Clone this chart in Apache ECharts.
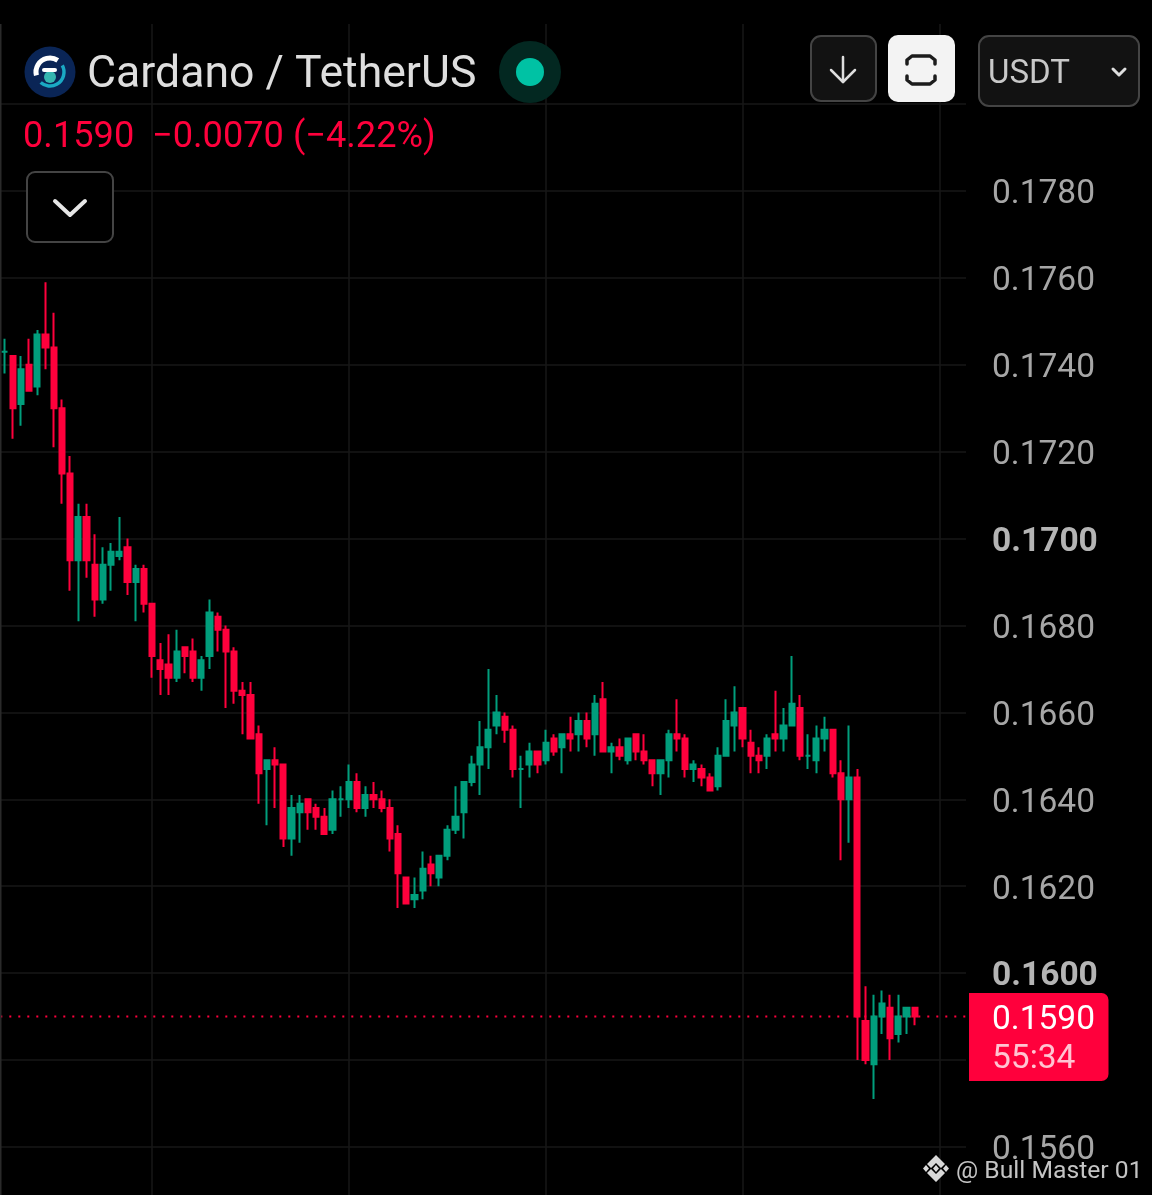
<!DOCTYPE html>
<html><head><meta charset="utf-8">
<style>html,body{margin:0;padding:0;background:#000}#c{width:1152px;height:1195px}</style>
<script src="https://cdn.jsdelivr.net/npm/echarts@6/dist/echarts.min.js"></script>
</head><body><div id="c"></div>
<script>
const opens=[.1743,.1742,.1731,.1740,.1735,.1747,.1744,.1730,.1715,.1695,.1705,.1694,.1686,.1694,.1696,.1698,.1690,.1693,.1685,.1672,.1671,.1668,.1675,.1674,.1668,.1673,.1682,.1679,.1674,.1665,.1664,.1655,.1647,.1649,.1648,.1631,.1637,.1640,.1638,.1636,.1633,.1640,.1640,.1644,.1638,.1641,.1640,.1638,.1632,.1622,.1617,.1619,.1625,.1622,.1627,.1633,.1637,.1644,.1648,.1652,.1657,.1659,.1656,.1647,.1648,.1651,.1649,.1654,.1652,.1655,.1655,.1658,.1655,.1663,.1651,.1652,.1649,.1655,.1651,.1649,.1646,.1649,.1655,.1654,.1647,.1647,.1645,.1643,.1650,.1657,.1661,.1653,.1650,.1650,.1655,.1654,.1657,.1661,.1650,.1649,.1654,.1656,.1646,.1640,.1645,.1589,.1579,.1590,.1592,.1586,.1590,.1592];
const closes=[.1743,.1730,.1739,.1734,.1747,.1744,.1730,.1715,.1695,.1705,.1695,.1686,.1694,.1697,.1697,.1690,.1693,.1685,.1673,.1670,.1668,.1674,.1673,.1668,.1672,.1683,.1679,.1674,.1665,.1664,.1654,.1646,.1649,.1648,.1631,.1638,.1639,.1637,.1636,.1632,.1640,.1640,.1644,.1638,.1641,.1640,.1638,.1631,.1623,.1616,.1618,.1624,.1623,.1627,.1633,.1636,.1644,.1648,.1652,.1656,.1660,.1656,.1647,.1647,.1651,.1648,.1653,.1651,.1655,.1654,.1658,.1654,.1662,.1651,.1652,.1650,.1654,.1651,.1649,.1646,.1649,.1655,.1654,.1647,.1648,.1645,.1642,.1650,.1658,.1660,.1654,.1650,.1649,.1654,.1654,.1657,.1662,.1650,.1650,.1654,.1656,.1646,.1640,.1645,.1590,.1580,.1590,.1593,.1585,.1590,.1592,.1590];
const lows=[.1738,.1723,.1726,.1734,.1733,.1739,.1721,.1708,.1688,.1681,.1691,.1682,.1685,.1688,.1695,.1687,.1681,.1683,.1668,.1664,.1664,.1667,.1669,.1667,.1665,.1670,.1674,.1661,.1662,.1655,.1654,.1639,.1634,.1638,.1629,.1627,.1630,.1633,.1633,.1632,.1632,.1636,.1638,.1637,.1636,.1638,.1637,.1628,.1615,.1616,.1615,.1617,.1620,.1620,.1626,.1632,.1631,.1643,.1641,.1647,.1655,.1653,.1645,.1638,.1645,.1646,.1648,.1650,.1646,.1651,.1651,.1652,.1650,.1651,.1646,.1649,.1648,.1649,.1648,.1643,.1641,.1645,.1651,.1645,.1644,.1643,.1642,.1642,.1650,.1651,.1652,.1646,.1646,.1647,.1651,.1651,.1657,.1649,.1647,.1646,.1651,.1645,.1626,.1630,.1580,.1579,.1571,.1586,.1580,.1584,.1586,.1588];
const highs=[.1746,.1742,.1742,.1746,.1748,.1759,.1752,.1732,.1719,.1708,.1708,.1701,.1698,.1699,.1705,.1700,.1694,.1694,.1685,.1676,.1678,.1679,.1675,.1677,.1673,.1686,.1683,.1680,.1675,.1667,.1667,.1657,.1649,.1652,.1648,.1641,.1641,.1640,.1639,.1638,.1642,.1643,.1648,.1646,.1643,.1644,.1642,.1640,.1634,.1622,.1622,.1628,.1627,.1627,.1634,.1643,.1644,.1650,.1658,.1670,.1664,.1660,.1657,.1650,.1653,.1651,.1656,.1655,.1655,.1659,.1660,.1660,.1664,.1667,.1653,.1654,.1654,.1655,.1655,.1649,.1649,.1656,.1663,.1655,.1649,.1648,.1646,.1652,.1663,.1666,.1661,.1656,.1652,.1655,.1665,.1661,.1673,.1664,.1655,.1657,.1659,.1656,.1649,.1657,.1647,.1597,.1595,.1596,.1595,.1595,.1592,.1592];
const priceTicksBold=['0.1700','0.1600'];
const priceTicksHidden=['0.1540','0.1580','0.1800','0.1820'];
const lastPrice=0.1590;
const xMax=123.26;
const RED='#ff003c',GREEN='#019e7c',GRID='#171717',AXIS='#a6a6a6';
const candles=opens.map((o,i)=>[i+6,o,closes[i],lows[i],highs[i]]);
const F='Roboto';
const chart=echarts.init(document.getElementById('c'),null,{renderer:'canvas'});
const box=(x,y,w,h,r,fill,stroke)=>({type:'rect',z:100,shape:{x,y,width:w,height:h,r},style:{fill,stroke,lineWidth:stroke?2:0}});
const pl=(pts,stroke,w)=>({type:'polyline',z:101,shape:{points:pts},style:{stroke,lineWidth:w,fill:null,lineCap:'round',lineJoin:'round'}});
const txt=(x,y,t,size,fill,extra)=>({type:'text',z:102,x,y,style:Object.assign({text:t,fontFamily:F,fontSize:size,fill,textVerticalAlign:'middle',verticalAlign:'middle'},extra||{})});
chart.setOption({
  backgroundColor:'#000',animation:false,
  grid:{left:-44.7,top:17.2,width:1010.7,height:1216.6,containLabel:false,outerBoundsMode:'none'},
  xAxis:{type:'value',min:0,max:xMax,interval:24,axisLine:{show:false},axisTick:{show:false},axisLabel:{show:false},
    splitLine:{show:true,showMinLine:false,showMaxLine:false,lineStyle:{color:GRID,width:1.5}}},
  yAxis:{type:'value',position:'right',min:0.154,max:0.182,interval:0.002,axisLine:{show:false},axisTick:{show:false},
    splitLine:{show:true,lineStyle:{color:GRID,width:1.5}},
    axisLabel:{show:true,margin:26,color:AXIS,fontFamily:F,fontSize:33.5,padding:[8,0,0,0],
      formatter:v=>{const s=v.toFixed(4);if(priceTicksHidden.includes(s))return '';return priceTicksBold.includes(s)?'{b|'+s+'}':s;},
      rich:{b:{fontFamily:F,fontSize:33.5,fontWeight:'bold',color:'#b4b4b4'}}}},
  series:[
    {type:'line',z:1,data:[[0,lastPrice],[xMax,lastPrice]],symbol:'none',silent:true,lineStyle:{color:RED,type:[2,7],width:2}},
    {type:'candlestick',z:2,data:candles,barWidth:5.8,clip:true,
    itemStyle:{color:GREEN,color0:RED,borderColor:GREEN,borderColor0:RED,borderColorDoji:GREEN,borderWidth:2}}],
  graphic:[
    {type:'rect',z:99,shape:{x:0,y:0,width:1152,height:24},style:{fill:'#000'}},
    {type:'rect',z:99,shape:{x:0,y:24,width:1.5,height:1171},style:{fill:'#2a2a2a'}},
    {type:'circle',z:100,shape:{cx:50,cy:72,r:25.5},style:{fill:'#0a2556'}},
    {type:'arc',z:101,shape:{cx:50,cy:72,r:14,startAngle:2.9,endAngle:5.3},style:{stroke:'#fff',lineWidth:5,fill:null}},
    {type:'arc',z:101,shape:{cx:50,cy:72,r:14,startAngle:-0.5,endAngle:2.3},style:{stroke:'#1aa9c4',lineWidth:3.5,fill:null}},
    {type:'circle',z:101,shape:{cx:50,cy:77,r:6},style:{fill:'#35b6b0'}},
    {type:'rect',z:101,shape:{x:42,y:68,width:15,height:4,r:2},style:{fill:'#fff'}},
    txt(87,76,'Cardano / TetherUS',44.6,'#dedede'),
    {type:'circle',z:100,shape:{cx:530,cy:72,r:31},style:{fill:'#032821'}},
    {type:'circle',z:101,shape:{cx:530,cy:72,r:14},style:{fill:'#00c2a4'}},
    txt(23,138,'0.1590',36.2,RED),
    txt(152,138,'\u22120.0070 (\u22124.22%)',36.2,RED),
    box(27,172,86,70,8,'#000','#444'),
    pl([[55,201],[70,215],[85,201]],'#e6e6e6',4),
    box(811,36,65,65,10,'#121212','#444'),
    pl([[843,57],[843,82]],'#dedede',2.5),pl([[831,70],[843,82],[855,70]],'#dedede',2.5),
    box(888,35,67,67,10,'#f3f3f3'),
    pl([[907,64],[907,60],[912,56],[930,56],[935,60],[935,64]],'#1c1c1c',3.5),
    pl([[907,76],[907,80],[912,84],[930,84],[935,80],[935,76]],'#1c1c1c',3.5),
    box(979,36,160,70,10,'#121212','#444'),
    txt(988,75,'USDT',33,'#c8c8c8'),
    pl([[1113,69],[1119,75],[1125,69]],'#dedede',3),
    {type:'rect',z:100,shape:{x:969,y:993,width:139.5,height:88,r:[0,7,7,0]},style:{fill:RED}},
    txt(992,1021,'0.1590',33.5,'#fff'),
    txt(992,1060,'55:34',33.5,'#ffc4d2'),
    {type:'polygon',z:102,shape:{points:[[936,1155],[945,1164],[941,1168],[936,1163],[931,1168],[927,1164]]},style:{fill:'#d8d8d8'}},
    {type:'polygon',z:102,shape:{points:[[936,1182],[945,1173],[941,1169],[936,1174],[931,1169],[927,1173]]},style:{fill:'#d8d8d8'}},
    {type:'polygon',z:102,shape:{points:[[926,1165],[929,1168.5],[926,1172],[923,1168.5]]},style:{fill:'#d8d8d8'}},
    {type:'polygon',z:102,shape:{points:[[946,1165],[949,1168.5],[946,1172],[943,1168.5]]},style:{fill:'#d8d8d8'}},
    {type:'polygon',z:102,shape:{points:[[936,1165],[939,1168.5],[936,1172],[933,1168.5]]},style:{fill:'#d8d8d8'}},
    txt(956,1172,'@ Bull Master 01',24.7,'#c4c4c4')
  ]
});
</script></body></html>
